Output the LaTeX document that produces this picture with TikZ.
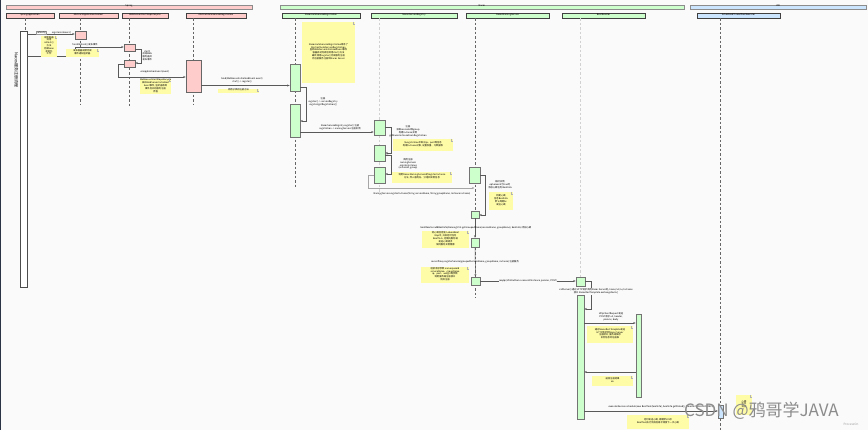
\documentclass[tikz,border=0pt]{standalone}
\usepackage{fontspec}
\setmainfont{Noto Sans CJK SC}
\usetikzlibrary{fit,arrows.meta}
\definecolor{bgc}{HTML}{FAFAFA}
\definecolor{pinkf}{HTML}{FFCCCC}
\definecolor{greenf}{HTML}{CCFFCC}
\definecolor{bluef}{HTML}{CCE5FF}
\definecolor{notey}{HTML}{FFFCA8}
\definecolor{edgec}{HTML}{2B3445}
\tikzset{
  smalltxt/.style={font=\fontsize{2.3}{2.8}\selectfont, align=center},
  grp/.style={draw=black!45, line width=0.6pt, inner sep=0pt, smalltxt},
  head/.style={draw=black!75, line width=0.5pt, inner sep=0pt, smalltxt},
  life/.style={black!60, dash pattern=on 2.5pt off 2pt, line width=0.5pt},
  faint/.style={black!18, dash pattern=on 2.5pt off 2pt, line width=0.5pt},
  pact/.style={draw=black!60, fill=pinkf, inner sep=0pt, line width=0.6pt},
  gact/.style={draw=black!55, fill=greenf, inner sep=0pt, line width=0.6pt},
  note/.style={fill=notey, inner sep=0pt, smalltxt},
  lbl/.style={smalltxt, inner sep=0.4pt},
  msg/.style={draw=black!65, line width=0.5pt, -{Stealth[length=2.5pt,width=2pt]}},
}

\begin{document}
\begin{tikzpicture}[x=1pt,y=-1pt]
\fill[bgc] (0,0) rectangle (868,430);
\useasboundingbox (0,0) rectangle (868,430);
\fill[edgec] (0,0) rectangle (1.2,430);

\node[grp, fill=pinkf, fit={(6,5) (252,9)}] (gspring) {Spring};
\node[grp, fill=greenf, fit={(280,5) (684,9)}] (gnacos) {Nacos};
\node[grp, fill=bluef, fit={(690,5) (866,9)}] (gjdk) {JDK};

\node[head, fill=pinkf, fit={(6,13.5) (54,18)}] (h1) {SpringApplication};
\node[head, fill=pinkf, fit={(59,13.5) (118,18)}] (h2) {AbstractApplicationContext};
\node[head, fill=pinkf, fit={(122,13.5) (168,18)}] (h3) {WebServerStartStopLifecycle};
\node[head, fill=pinkf, fit={(186,13.5) (246,18)}] (h4) {AbstractAutoServiceRegistration};
\node[head, fill=greenf, fit={(282,13.5) (360,18)}] (h5) {NacosAutoServiceRegistration};
\node[head, fill=greenf, fit={(371,13.5) (457,18)}] (h6) {NacosServiceRegistry};
\node[head, fill=greenf, fit={(466,13.5) (549,18)}] (h7) {NacosNamingService};
\node[head, fill=greenf, fit={(562,13.5) (645,18)}] (h8) {BeatReactor};
\node[head, fill=bluef, fit={(697,13.5) (780,18)}] (h9) {ScheduledThreadPoolExecutor};

\draw[life] (25,0 |- h1.south) -- (25,31);
\draw[life] (80.5,0 |- h2.south) -- (80.5,105);
\draw[life] (129.5,0 |- h3.south) -- (129.5,107);
\draw[life] (193.5,0 |- h4.south) -- (193.5,105);
\draw[life] (295,0 |- h5.south) -- (295,188);
\draw[faint] (379.5,0 |- h6.south) -- (379.5,195);
\draw[life] (475,0 |- h7.south) -- (475,298);
\draw[faint] (580.5,0 |- h8.south) -- (580.5,277);
\draw[life] (720.5,0 |- h9.south) -- (720.5,430);

\node[draw=black!70, fill=white, inner sep=0pt, line width=0.6pt, fit={(20,31) (27,287)}] (p1a) {};
\node[rotate=-90, font=\fontsize{4}{5}\selectfont] (title) at (16.5,70) {Nacos服务注册流程};
\node[pact, fit={(75,31) (86,39)}] (p2a) {};
\node[pact, fit={(124,44) (135,51)}] (p3a) {};
\node[pact, fit={(124,60) (135,67)}] (p3b) {};
\node[pact, fit={(186,60) (201,92)}] (p4a) {};

\node[gact, fit={(290,64) (300,91)}] (g5a) {};
\node[gact, fit={(290,104) (300,137)}] (g5b) {};
\node[gact, fit={(374,120) (385,135)}] (g6a) {};
\node[gact, fit={(374,145) (385,161)}] (g6b) {};
\node[gact, fit={(374,167) (385,183)}] (g6c) {};
\node[gact, fit={(469,167) (480,183)}] (g7a) {};
\node[gact, fit={(471,211) (479,218)}] (g7b) {};
\node[gact, fit={(471,238) (479,247)}] (g7c) {};
\node[gact, fit={(471,277) (480,285)}] (g7d) {};
\node[gact, fit={(576,277) (585,286)}] (g8a) {};
\node[gact, fit={(577,295) (584,419)}] (g8b) {};
\node[gact, fit={(636,314) (641,397)}] (g8c) {};
\node[draw=black!55, fill=bluef, inner sep=0pt, fit={(718,405) (723,418)}] (b9a) {};

\draw[msg] (p1a.east |- 0,34) -- (p2a.west |- 0,34);
\node[lbl, draw=black!40, fill=white] (m1) at (41.5,32.5) {refresh()};
\node[lbl] (m1b) at (61.5,32.5) {registerListeners()};
\draw[msg] (p1a.east |- 0,56) -- (75,56) -- (75,47) -- (p3a.west |- 0,47);
\node[lbl] (m2) at (85,44.5) {finishRefresh() 发布事件};
\draw[msg] (p3a.east |- 0,49) -- (141,49) -- (141,63) -- (p3b.east |- 0,63);
\node[lbl, anchor=west] (m3) at (142,55.5) {start()\\启动Web\\服务器并\\发布事件};
\draw[msg] (p3b.west |- 0,64) -- (118,64) -- (118,77) -- (p4a.west |- 0,77);
\node[lbl] (m4) at (155,72) {onApplicationEvent(event)};
\draw[msg] (p4a.east |- 0,85.5) -- (g5a.west |- 0,85.5);
\node[lbl] (m5) at (242,80) {bind(WebServerInitializedEvent event)\\start() -{}> register()};
\draw[msg] (g5a.east |- 0,87) -- (306,87) -- (306,121) -- (g5b.east |- 0,121);
\node[lbl] (m6) at (323,102) {注册\\register() -{}> serviceRegistry\\.register(getRegistration())};
\draw[msg] (g5b.east |- 0,132) -- (g6a.west |- 0,132);
\node[lbl] (m7) at (340,127) {NacosServiceRegistry.register() 注册\\registration -{}> namingService 注册实例};
\draw[msg] (g6a.east |- 0,127) -- (391,127) -- (391,153) -- (g6b.east |- 0,153);
\node[lbl] (m8) at (408,131.5) {注册\\获取serviceId和group\\构建Instance实例\\getNacosInstanceFromRegistration};
\node[lbl] (m8b) at (387.5,155.5) {ok};
\draw[msg] (g6b.east |- 0,155) -- (391,155) -- (391,174) -- (g6c.east |- 0,174);
\node[lbl] (m9) at (408,164) {调用注册\\namingService\\.registerInstance\\(serviceId, group)};
\draw[msg, draw=black!35] (g6c.west |- 0,175) -- (368,175) -- (368,188) -- (g7a.south |- 0,188);
\node[lbl] (m10) at (422,194) {NamingService.registerInstance(String serviceName, String groupName, Instance instance)};
\draw[msg] (g7a.east |- 0,175) -- (485,175) -- (485,215) -- (g7b.east |- 0,215);
\node[lbl] (m11) at (500,184.5) {临时实例\\ephemeral为true时\\添加心跳任务 BeatInfo};
\draw[msg] (g7b) -- (g7c);
\node[lbl] (m12) at (476,228) {beatReactor.addBeatInfo(NamingUtils.getGroupedName(serviceName, groupName), beatInfo) 添加心跳};
\draw[msg] (g7c) -- (g7d);
\node[lbl] (m13) at (475,262) {serverProxy.registerService(groupedServiceName, groupName, instance) 注册服务};
\draw[msg] (g7d.east |- 0,281) -- (g8a.west |- 0,281);
\node[lbl, fill=bgc] (m14) at (528,281) {reqApi(UtilAndComs.nacosUrlInstance, params, POST)};
\draw[msg] (g8a.east |- 0,281) -- (591,281) -- (591,309) -- (g8b.east |- 0,309);
\node[lbl, fill=bgc] (m15) at (596,291.5) {callServer() 通过HTTP请求调用Nacos Server的 /nacos/v1/ns/instance\\接口 NacosRestTemplate.exchangeForm()};
\draw[msg] (g8b.east |- 0,323) -- (g8c.west |- 0,323);
\node[lbl] (m16) at (611,317) {HttpClientRequest发送\\POST请求 url, header,\\params, body};
\draw[msg] (g8c.west |- 0,372) -- (g8b.east |- 0,372);
\draw[msg] (g8b.east |- 0,411) -- (b9a.west |- 0,411);
\node[lbl] (m17) at (661,407) {executorService.schedule(new BeatTask(beatInfo), beatInfo.getPeriod(), TimeUnit.MILLISECONDS)};

\node[note, fit={(41,36) (57,57)}] (n1) {刷新容器\\调用\\refresh()\\方法\\完成bean\\初始化\\工作};
\node[note, fit={(66,49) (99,57)}] (n2) {发布容器刷新完成\\事件通知监听器};
\node[note, fit={(140,79) (171,94)}] (n3) {WebServerStartStopLifecycle\\发布WebServerInitialized\\Event事件, 监听器收到\\事件后开始服务注册\\流程};
\node[note, fit={(218,89) (259,93)}] (n4) {调用子类的注册方法};
\node[note, fit={(302,22) (355,83)}] (n5) {NacosAutoServiceRegistration继承了\\AbstractAutoServiceRegistration\\监听WebServerInitializedEvent事件\\容器启动完成后调用start()方法\\最终调用register()完成服务注册\\将当前服务注册到Nacos Server};
\node[note, fit={(393,139) (453,151)}] (n6) {从registration中取出ip、port等信息\\构建Instance对象, 设置权重、元数据等};
\node[note, fit={(392,172) (452,183)}] (n7) {调用NacosNamingService的registerInstance\\方法, 传入服务名、分组和实例信息};
\node[note, fit={(489,192) (513,210)}] (n8) {构建心跳\\信息BeatInfo\\默认周期5s\\发送心跳};
\node[note, fit={(422,231) (469,248)}] (n9) {将心跳信息放入dom2Beat\\Map中, 开启定时任务\\BeatTask, 定期向服务端\\发送心跳请求\\保持服务实例健康};
\node[note, fit={(421,267) (469,283)}] (n10) {组装请求参数 namespaceId\\serviceName、groupName\\ip、port、weight等参数\\调用服务端注册接口\\完成注册};
\node[note, fit={(587,326) (633,343)}] (n11) {通过NacosRestTemplate发送\\HTTP请求到Nacos Server\\注册接口, 服务端保存\\实例信息到注册表};
\node[note, fit={(592,376) (633,386)}] (n12) {返回注册结果\\ok};
\node[note, fit={(627,415) (689,429)}] (n13) {定时发送心跳, 周期默认5秒\\BeatTask执行完成后再次调度下一次心跳};
\node[note, fit={(736,395) (752,415)}] (n14) {心跳\\任务\\调度};

\foreach \n in {n1,n2,n3,n4,n5,n6,n7,n8,n9,n10,n11,n12,n13,n14}
  \draw[black!30, line width=0.3pt] ([xshift=-2.5pt]\n.north east) -- ([xshift=-2.5pt,yshift=-2.5pt]\n.north east) -- ([yshift=-2.5pt]\n.north east);

\node[text=black!45, font=\fontsize{17}{17}\selectfont, anchor=west, inner sep=0pt] (wm) at (684,410.5) {CSDN @鸦哥学JAVA};
\node[text=black!40, font=\fontsize{3}{3}\selectfont] (po) at (851,424) {ProcessOn};
\end{tikzpicture}
\end{document}
